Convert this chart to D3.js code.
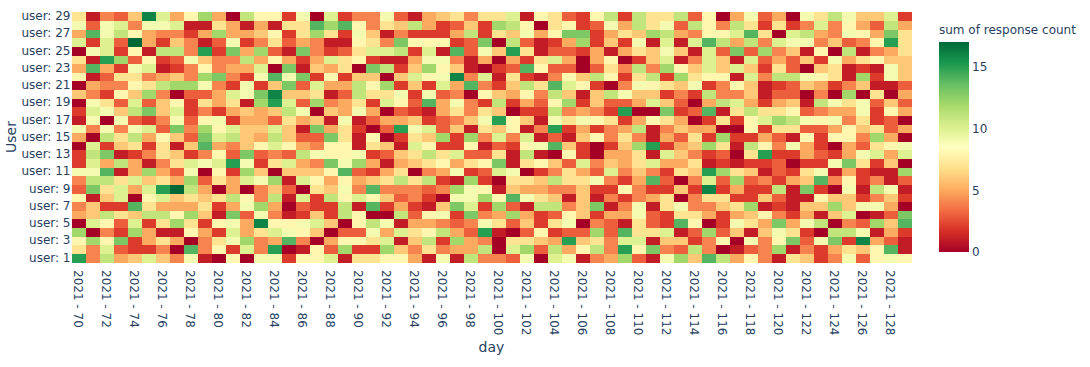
<!DOCTYPE html>
<html>
<head>
<meta charset="utf-8">
<script src="https://cdn.jsdelivr.net/npm/d3@7"></script>
<style>
html,body{margin:0;padding:0;background:#fff;overflow:hidden}
svg{display:block}
text{font-family:"DejaVu Sans",Verdana,sans-serif;fill:#2a3f5f}
</style>
</head>
<body>
<div id="chart"></div>
<script>
// x categories: ISO-week style day labels
const dayNumbers = d3.range(70, 130);
const xTickDays = d3.range(70, 130, 2);
// y categories, bottom row first
const userNumbers = d3.range(1, 30);
const yTickUsers = d3.range(1, 30, 2);
// colorbar
const colorDomainMax = 17;
const colorbarTicks = [0, 5, 10, 15];
const colorStops = ["#a50026","#d73027","#f46d43","#fdae61","#fee08b","#ffffbf","#d9ef8b","#a6d96a","#66bd63","#1a9850","#006837"];
// sum of response count: one array per user, 60 days each
const user29 = [7,1,4,3,6,16,10,5,8,12, 5,0,11,8,8,2,9,0,10,2,4,4,9,3,1,5, 6,7,4,7,7,10,1,8,7,3,2,8,11,2,11,7, 7,11,3,8,0,5,9,3,5,0,9,7,11,9,6,6,10,2];
const user28 = [9,3,9,10,4,9,9,10,1,1, 7,5,1,5,1,7,7,14,12,14,8,4,7,6,11,5, 2,3,6,2,12,11,8,0,7,8,2,3,9,5,11,7, 9,3,11,8,4,11,7,2,7,2,4,10,4,8,5,3,11,5];
const user27 = [5,14,9,11,8,5,4,4,2,5, 12,5,5,6,8,2,7,12,7,2,9,6,1,4,2,2, 2,5,11,2,7,6,9,5,8,13,13,2,5,7,6,12, 11,5,4,8,8,10,14,7,0,10,11,5,4,9,8,5,13,7];
const user26 = [10,2,10,3,17,5,2,6,4,1, 3,9,2,4,7,3,5,4,1,1,8,7,4,13,8,8, 8,2,3,13,0,11,3,1,2,5,12,2,6,2,9,1, 10,1,10,14,11,5,11,4,10,9,9,4,6,3,4,8,15,7];
const user25 = [0,9,10,2,8,1,11,11,4,15, 2,13,5,12,3,1,13,4,2,3,7,10,10,11,2,10, 1,14,3,9,6,15,7,1,3,3,2,5,1,5,7,6, 9,6,1,10,3,13,3,12,4,6,1,8,0,11,1,4,5,7];
const user24 = [7,1,15,12,3,8,2,3,9,6, 4,4,11,5,8,5,2,5,10,7,8,2,1,1,5,9, 9,4,1,5,0,5,2,7,10,5,0,5,8,0,2,6, 10,1,4,10,6,1,10,3,5,3,6,2,9,5,7,8,6,6];
const user23 = [5,14,5,2,9,10,1,2,4,8, 4,5,5,10,0,13,1,6,5,7,0,13,11,2,6,12, 8,6,1,0,2,3,14,8,3,3,0,3,7,4,11,4, 12,8,6,10,6,10,6,2,7,3,0,6,7,1,2,1,9,6];
const user22 = [8,1,3,7,7,4,5,6,4,12, 13,4,2,9,14,9,13,2,8,2,6,6,0,6,10,8, 9,16,4,10,1,7,2,1,4,8,6,11,8,2,7,11, 2,12,7,8,8,1,10,4,11,11,9,8,7,1,12,2,9,6];
const user21 = [0,5,4,4,8,7,11,12,12,9, 4,2,9,2,6,13,3,10,5,5,11,8,12,2,6,2, 10,5,14,4,2,6,11,7,14,10,8,2,0,4,9,8, 7,6,9,2,4,8,6,1,2,3,6,5,2,4,6,1,1,3];
const user20 = [6,4,2,8,6,12,4,0,3,3, 5,10,9,13,16,6,6,7,1,3,11,7,7,9,2,9, 3,4,0,8,6,5,8,4,11,6,1,6,11,9,6,6, 2,4,2,11,4,4,6,1,3,3,0,4,0,12,0,7,0,5];
const user19 = [0,9,7,3,10,3,6,8,2,7, 5,7,1,12,15,10,3,12,4,5,7,2,10,8,3,14, 5,9,4,2,11,2,5,3,8,12,2,6,3,3,5,10, 6,3,0,5,11,10,5,2,5,6,1,11,9,7,9,3,6,3];
const user18 = [2,10,9,6,11,13,6,10,2,4, 2,5,6,5,6,11,9,0,6,5,9,5,0,3,2,1, 5,7,4,7,6,0,2,2,11,4,5,4,2,15,0,0, 13,2,3,14,1,7,11,7,7,8,3,4,5,5,9,2,8,5];
const user17 = [1,9,0,9,3,2,4,9,3,8, 9,2,5,5,3,7,5,6,1,9,1,3,5,5,6,2, 3,4,6,9,15,8,6,1,9,7,9,8,7,2,5,8, 7,5,0,2,7,2,8,10,12,11,9,8,9,4,7,2,3,0];
const user16 = [9,4,9,4,9,10,3,13,4,12, 8,10,6,6,10,6,1,13,5,7,2,0,3,15,9,10, 3,6,1,7,6,8,1,4,15,2,5,2,4,5,11,1, 4,6,5,5,0,0,8,2,7,7,3,3,5,8,6,7,3,5];
const user15 = [5,0,11,7,11,5,8,6,3,13, 10,11,6,5,11,6,3,3,13,7,1,8,0,2,7,6, 12,2,12,4,10,4,10,1,3,1,6,8,4,7,4,1, 5,3,7,2,12,2,2,5,3,1,8,2,8,8,4,12,5,0];
const user14 = [0,10,2,6,7,2,7,1,6,14, 5,4,6,8,10,8,5,4,8,8,1,7,6,1,10,8, 2,2,8,1,3,2,8,9,14,6,2,0,2,6,12,15, 2,5,6,12,7,1,11,8,4,9,5,2,0,5,3,7,8,9];
const user13 = [2,11,13,1,2,4,7,6,2,4, 8,3,13,3,4,3,11,9,8,8,9,2,3,6,7,11, 7,10,3,3,7,1,11,1,0,8,2,0,5,5,7,1, 10,6,4,2,3,0,7,15,2,2,5,3,2,5,9,10,5,10];
const user12 = [2,10,5,11,5,1,4,7,10,9, 10,15,9,2,7,10,5,4,13,9,12,5,1,5,6,7, 8,5,7,8,13,1,7,8,6,3,10,4,6,5,7,10, 5,5,7,1,2,1,2,2,3,0,2,2,9,13,7,2,6,0];
const user11 = [9,9,14,1,5,12,5,3,9,0, 8,2,12,6,0,6,6,6,8,14,3,2,5,7,0,4, 5,9,2,3,10,9,0,2,4,7,5,3,10,4,6,4, 2,7,6,15,12,7,6,1,3,2,7,9,1,5,2,1,1,12];
const user10 = [4,11,11,7,10,6,7,5,12,3, 7,5,10,9,12,1,10,8,5,8,5,6,7,11,7,11, 2,1,12,2,0,7,7,6,11,7,7,9,4,2,5,14, 3,0,4,10,3,12,3,4,2,5,6,14,4,8,2,4,1,3];
const user9 = [3,13,7,10,5,10,15,17,11,5, 0,5,0,4,6,3,0,7,6,9,4,14,4,4,4,3, 4,12,9,8,1,6,5,5,4,4,6,2,2,8,4,2, 2,6,2,16,2,5,2,2,11,1,13,2,0,9,1,11,9,1];
const user8 = [8,1,6,10,0,8,10,6,7,6, 7,11,8,4,11,1,10,2,11,8,10,8,6,3,4,2, 0,9,9,12,8,14,9,7,6,1,6,1,4,2,4,5, 7,0,4,7,7,2,2,6,3,1,1,8,6,6,2,4,6,2];
const user7 = [4,6,2,2,14,7,5,5,5,7, 2,5,9,12,5,0,3,2,2,11,1,14,2,5,2,1, 6,13,10,2,12,3,1,11,11,4,6,13,1,4,9,1, 7,9,4,4,6,7,12,1,2,1,6,6,12,6,9,9,5,0];
const user6 = [5,6,11,7,6,11,11,8,12,6, 1,13,3,9,4,1,2,6,2,11,8,0,0,11,3,8, 9,2,13,4,5,12,5,2,3,8,6,2,5,5,9,3, 2,7,7,5,2,5,6,8,4,2,5,1,6,10,0,1,3,13];
const user5 = [0,10,8,3,10,2,7,12,7,2, 8,9,5,16,8,8,9,10,6,0,8,11,9,1,5,5, 4,3,4,9,7,3,6,2,7,9,0,4,3,1,7,3, 2,14,8,0,2,9,7,5,13,5,9,11,0,4,3,12,6,14];
const user4 = [12,0,4,2,12,5,1,1,8,5, 2,10,5,7,10,9,8,6,0,3,3,9,5,10,7,8, 11,5,3,15,1,0,3,8,2,3,3,12,3,14,7,7, 10,1,3,12,3,6,1,6,9,7,2,0,11,11,9,1,5,2];
const user3 = [8,12,8,13,2,5,7,5,0,4, 7,9,12,4,5,14,4,0,5,8,8,7,10,1,6,11, 2,12,5,4,0,7,7,6,5,15,6,7,4,10,10,1, 6,6,2,4,8,0,9,4,8,13,3,9,13,2,16,5,3,1];
const user2 = [7,4,10,3,2,2,4,0,14,4, 8,2,10,4,15,0,1,8,3,12,2,2,12,6,4,7, 4,5,5,11,0,10,12,3,11,5,8,11,4,15,8,13, 4,3,11,4,0,1,3,4,12,1,4,2,5,7,6,8,14,1];
const user1 = [15,4,11,5,6,10,6,4,9,1, 0,8,0,9,9,2,8,8,10,1,7,7,8,8,5,1, 9,1,11,4,4,3,9,0,10,9,1,4,5,12,3,1, 9,12,6,14,11,5,8,4,1,7,6,2,4,9,3,8,9,8];
const responseCounts = [user1,user2,user3,user4,user5,user6,user7,user8,user9,user10,user11,user12,user13,user14,user15,user16,user17,user18,user19,user20,user21,user22,user23,user24,user25,user26,user27,user28,user29];

const W = 1090, H = 367;
const plot = {l:72, r:912, t:12, b:262};
const cb = {l:939, r:969, t:42, b:252};
const FONT = '"DejaVu Sans",Verdana,sans-serif';

const dayLabel = d => `2021 - ${d}`;
const userLabel = u => `user: ${u}`;

const x = d3.scaleBand().domain(dayNumbers).range([plot.l, plot.r]);
const y = d3.scaleBand().domain(userNumbers).range([plot.b, plot.t]);
const color = d3.scaleLinear()
  .domain(colorStops.map((_, i) => i / (colorStops.length - 1) * colorDomainMax))
  .range(colorStops)
  .interpolate(d3.interpolateRgb);

const svg = d3.select("#chart").append("svg").attr("width", W).attr("height", H);

const cells = responseCounts.flatMap((row, r) =>
  row.map((v, c) => ({user: userNumbers[r], day: dayNumbers[c], value: v})));

svg.append("g").attr("shape-rendering", "crispEdges")
  .selectAll("rect").data(cells).join("rect")
  .attr("x", d => x(d.day))
  .attr("y", d => y(d.user))
  .attr("width", x.bandwidth())
  .attr("height", y.bandwidth() + 0.5)
  .attr("fill", d => color(d.value));

// x axis
const xAxis = svg.append("g")
  .attr("transform", `translate(0,${plot.b})`)
  .call(d3.axisBottom(x).tickValues(xTickDays).tickFormat(dayLabel).tickSize(0));
xAxis.select(".domain").remove();
xAxis.selectAll("text")
  .style("font-size","12px").style("font-family", FONT)
  .attr("text-anchor", "start").attr("dy", null).attr("x", null).attr("y", null)
  .attr("transform", "translate(-5.5,8) rotate(90)");

// y axis
const yAxis = svg.append("g")
  .attr("transform", `translate(${plot.l},0)`)
  .call(d3.axisLeft(y).tickValues(yTickUsers).tickFormat(userLabel).tickSize(0).tickPadding(1.5));
yAxis.select(".domain").remove();
yAxis.selectAll("text").style("font-size","12px").style("font-family", FONT);

svg.append("text").attr("x", 491.5).attr("y", 352).attr("text-anchor", "middle")
  .style("font-size","14px").text("day");
svg.append("text").attr("transform", "translate(15.5,137) rotate(-90)").attr("text-anchor", "middle")
  .style("font-size","14px").text("User");

// colorbar
const cbY = d3.scaleLinear().domain([0, colorDomainMax]).range([cb.b, cb.t]);
svg.append("g").attr("shape-rendering", "crispEdges")
  .selectAll("rect").data(d3.range(cb.t, cb.b)).join("rect")
  .attr("x", cb.l).attr("y", d => d).attr("width", cb.r - cb.l).attr("height", 1)
  .attr("fill", d => color(cbY.invert(d + 0.5)));
const cbAxis = svg.append("g")
  .attr("transform", `translate(${cb.r},0)`)
  .call(d3.axisRight(cbY).tickValues(colorbarTicks).tickSize(0).tickPadding(3));
cbAxis.select(".domain").remove();
cbAxis.selectAll("text").style("font-size","12px").style("font-family", FONT);
svg.append("text").attr("x", cb.l).attr("y", 34).style("font-size","12px").text("sum of response count");
</script>
</body>
</html>
